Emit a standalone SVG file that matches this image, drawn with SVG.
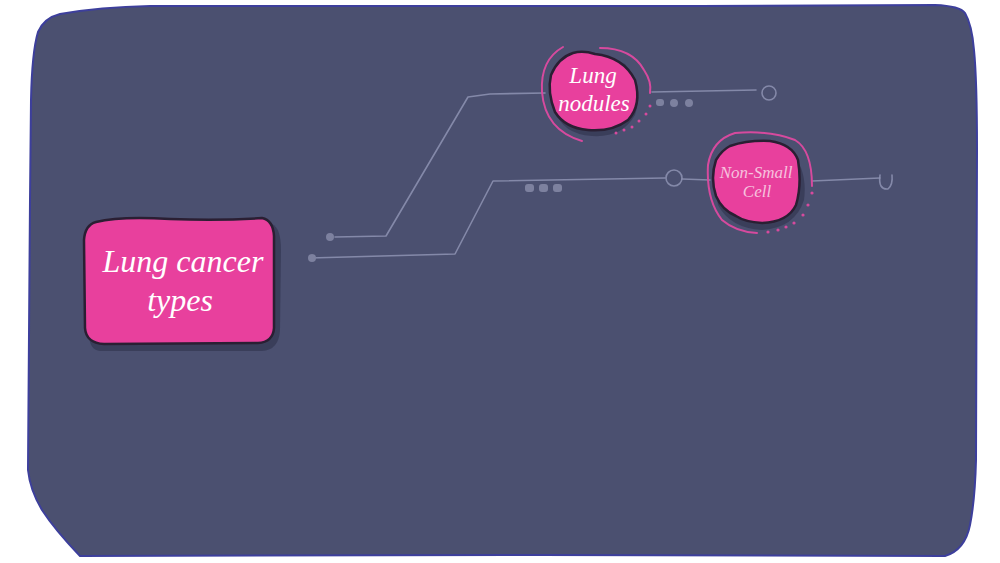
<svg xmlns="http://www.w3.org/2000/svg" width="1000" height="563" viewBox="0 0 1000 563">
<defs>
<style>
.panel{fill:#4b5070;stroke:#3d3f9c;stroke-width:2}
.con{fill:none;stroke:#8e93b3;stroke-width:1.6;stroke-linecap:round;stroke-linejoin:round;opacity:.85}
.dot{fill:#7d819f}
.blob{fill:#e8409d;stroke:#2a1f33;stroke-width:2.5}
.shadow{fill:#363a55;opacity:.8}
.ring{fill:none;stroke:#d64a9e;stroke-width:2;stroke-linecap:round}
.rdot{fill:#d64a9e}
.lbl{font-family:"Liberation Serif","DejaVu Serif",serif;font-style:italic;fill:#ffffff;text-anchor:middle}
</style>
</defs>
<rect width="1000" height="563" fill="#ffffff"/>
<path class="panel" d="M31,100 Q32,52 38,32 Q44,18 60,14 Q100,7 150,6 L700,6 L935,5 Q960,6 965,13 Q972,25 974,50 Q977,80 977,150 L976,460 Q975,500 970,525 Q965,550 945,556 L540,555 L80,556 Q55,530 42,510 Q30,490 28,470 L30,200 Z"/>

<g id="connectors">
<path class="con" d="M335,237 L386,236 L468,97 L490,94 L545,93"/>
<path class="con" d="M310,258 L455,254 L493,181 L665,178"/>
<circle class="con" cx="674" cy="178" r="8"/>
<path class="con" d="M682,179 L710,180"/>
<path class="con" d="M652,92 L756,90"/>
<circle class="con" cx="769" cy="93" r="7"/>
<path class="con" d="M812,181 L880,178"/>
<path class="con" d="M880,175 Q878,190 888,189 Q893,185 892,175"/>
<circle class="dot" cx="330" cy="237" r="4"/>
<circle class="dot" cx="312" cy="258" r="4"/>
<rect class="dot" x="525" y="184" width="9" height="8" rx="3"/>
<rect class="dot" x="539" y="184" width="9" height="8" rx="3"/>
<rect class="dot" x="553" y="184" width="9" height="8" rx="3"/>
<rect class="dot" x="656" y="99" width="8" height="7" rx="3"/>
<circle class="dot" cx="674" cy="103" r="4"/>
<circle class="dot" cx="689" cy="103" r="4"/>
</g>

<g id="node-lung-cancer-types">
<path class="shadow" d="M92,226 Q180,220 272,224 Q281,228 281,250 L280,330 Q279,350 262,351 L100,351 Q90,350 89,336 Z"/>
<path class="blob" d="M96,222 Q120,216 170,219 Q220,221 262,218 Q273,220 274,236 L274,328 Q273,342 258,343 L104,344 Q86,343 85,328 L84,240 Q85,225 96,222 Z"/>
<text class="lbl" x="183" y="272" font-size="32">Lung cancer</text>
<text class="lbl" x="180" y="311" font-size="32">types</text>
</g>

<g id="node-lung-nodules">
<path class="shadow" d="M570,60 Q600,50 625,64 Q645,85 635,115 Q622,138 592,136 Q562,134 555,110 Q550,75 570,60 Z"/>
<path class="blob" d="M573,53 Q583,50 595,54 Q623,57 635,80 Q642,105 628,120 Q612,132 588,130 Q565,128 555,112 Q547,92 551,75 Q558,58 573,53 Z"/>
<path class="ring" d="M563,47 Q540,60 542,92 Q545,130 582,141"/>
<path class="ring" d="M600,48 Q632,48 644,70 Q652,82 650,93"/>
<circle class="rdot" cx="650" cy="106" r="1.5"/>
<circle class="rdot" cx="646" cy="114" r="1.5"/>
<circle class="rdot" cx="639" cy="121" r="1.5"/>
<circle class="rdot" cx="632" cy="127" r="1.5"/>
<circle class="rdot" cx="624" cy="130" r="1.5"/>
<circle class="rdot" cx="616" cy="133" r="1.5"/>
<text class="lbl" x="593" y="83" font-size="23">Lung</text>
<text class="lbl" x="594" y="111" font-size="23">nodules</text>
</g>

<g id="node-non-small-cell">
<path class="shadow" d="M730,150 Q760,140 790,150 Q808,170 804,200 Q795,228 762,230 Q730,228 718,205 Q712,170 730,150 Z"/>
<path class="blob" d="M730,146 Q748,140 770,141 Q792,144 798,160 Q802,185 796,205 Q788,222 762,223 Q745,222 736,216 Q722,210 716,196 Q710,178 716,160 Q722,150 730,146 Z"/>
<path class="ring" d="M812,186 Q812,150 795,140 Q770,130 735,133 Q712,140 708,165 Q706,200 722,220 Q736,232 757,233"/>
<circle class="rdot" cx="812" cy="193" r="1.6"/>
<circle class="rdot" cx="808" cy="205" r="1.6"/>
<circle class="rdot" cx="803" cy="215" r="1.6"/>
<circle class="rdot" cx="794" cy="223" r="1.6"/>
<circle class="rdot" cx="786" cy="227" r="1.6"/>
<circle class="rdot" cx="778" cy="230" r="1.6"/>
<circle class="rdot" cx="768" cy="232" r="1.6"/>
<text class="lbl" x="756" y="178" font-size="17" style="fill:#f6c2de">Non-Small</text>
<text class="lbl" x="757" y="197" font-size="17" style="fill:#f6c2de">Cell</text>
</g>
</svg>
